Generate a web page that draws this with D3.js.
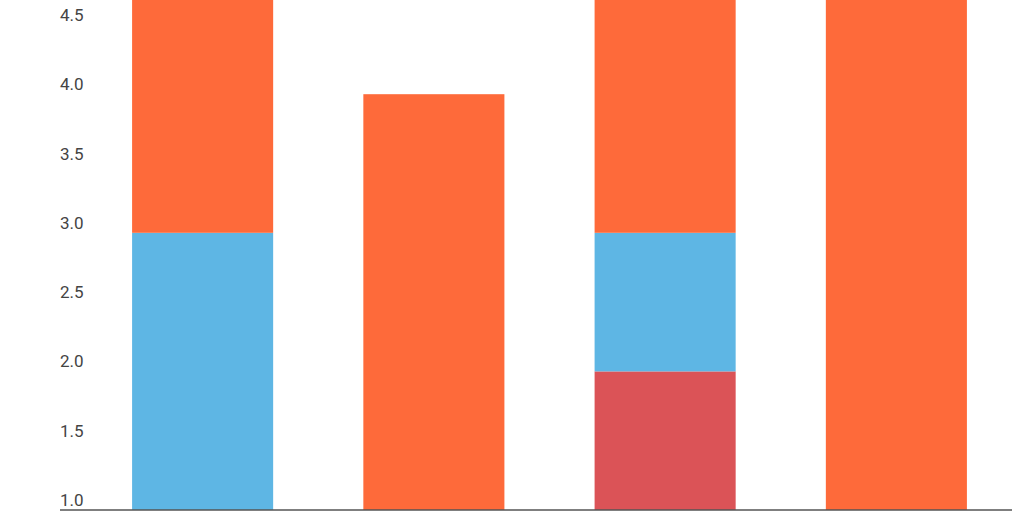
<!DOCTYPE html>
<html>
<head>
<meta charset="utf-8">
<script src="https://cdn.jsdelivr.net/npm/d3@7"></script>
<style>
  html, body { margin: 0; padding: 0; background: #fff; }
  svg { display: block; }
</style>
</head>
<body>
<div id="chart"></div>
<script>
// Stacked bars, y axis clipped to 1.0 - ~4.7

const categories = ["A", "B", "C", "D"];
const seriesKeys = ["red", "blue", "orange"];
const redValues = [0, 0, 2, 0];
const blueValues = [3, 0, 1, 0];
const orangeValues = [2, 4, 2, 5];
const yTicks = [1.0, 1.5, 2.0, 2.5, 3.0, 3.5, 4.0, 4.5];
const colors = { red: "#DB5357", blue: "#5EB6E4", orange: "#FE6A3A" };

const width = 1024;
const height = 512;
const axisY = 510;

const rows = categories.map((c, i) => ({
  cat: c,
  red: redValues[i],
  blue: blueValues[i],
  orange: orangeValues[i]
}));

const svg = d3.select("#chart")
  .append("svg")
  .attr("width", width)
  .attr("height", height);

const x = d3.scaleBand()
  .domain(categories)
  .range([87, 1012])
  .paddingInner(0.39)
  .paddingOuter(0.195);

const y = d3.scaleLinear()
  .domain([1, 4.5])
  .range([axisY, axisY - 3.5 * 138.6]);

svg.append("clipPath")
  .attr("id", "plotClip")
  .append("rect")
  .attr("x", 0)
  .attr("y", 0)
  .attr("width", width)
  .attr("height", axisY);

const stacked = d3.stack().keys(seriesKeys)(rows);

const bars = svg.append("g").attr("clip-path", "url(#plotClip)");

bars.selectAll("g")
  .data(stacked)
  .join("g")
  .attr("fill", d => colors[d.key])
  .selectAll("rect")
  .data(d => d.filter(s => s[1] > s[0]))
  .join("rect")
  .attr("x", d => x(d.data.cat))
  .attr("width", x.bandwidth())
  .attr("y", d => y(d[1]))
  .attr("height", d => y(d[0]) - y(d[1]));

// y labels sit just above their value, left aligned
svg.append("g")
  .selectAll("text")
  .data(yTicks)
  .join("text")
  .attr("x", 60)
  .attr("y", d => y(d) - 4)
  .style("font-family", "Roboto, sans-serif")
  .style("font-size", "17px")
  .attr("fill", "#444")
  .text(d => d3.format(".1f")(d));

// baseline
svg.append("line")
  .attr("x1", 60)
  .attr("x2", 1012)
  .attr("y1", axisY)
  .attr("y2", axisY)
  .attr("stroke", "#555")
  .attr("stroke-width", 1.5);
</script>
</body>
</html>
